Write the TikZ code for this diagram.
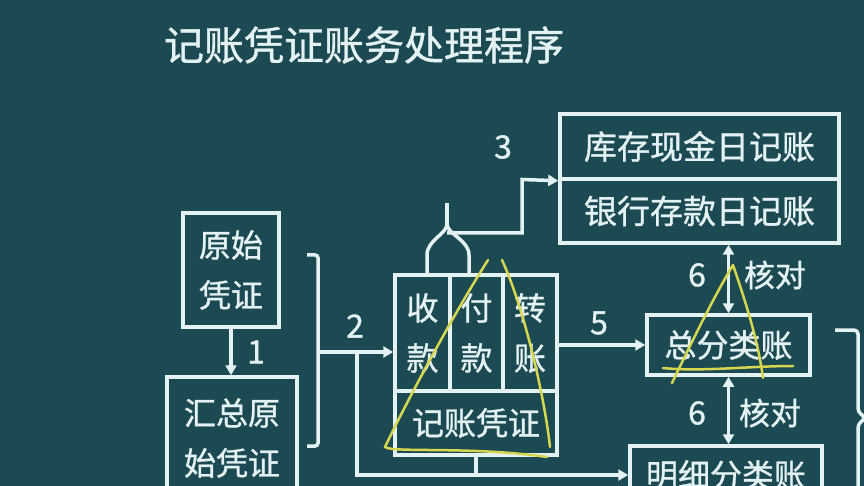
\documentclass[tikz,border=0pt]{standalone}
\usepackage{fontspec}
\setmainfont{Noto Sans CJK SC}[FakeBold=1]
\usetikzlibrary{arrows.meta}
\definecolor{bg}{HTML}{1C4A52}
\definecolor{ln}{HTML}{E4F2F4}
\definecolor{hl}{HTML}{D6D650}
\begin{document}
\begin{tikzpicture}[x=1pt,y=-1pt,
  box/.style={draw=ln, line width=3.5pt, inner sep=0pt, text=ln, align=center, font=\fontsize{32}{50}\selectfont},
  lbl/.style={text=ln, inner sep=0pt, align=center, font=\fontsize{32}{50}\selectfont},
  wire/.style={draw=ln, line width=3.5pt},
  arr/.style={wire, -{Triangle[length=10pt,width=11pt]}},
  darr/.style={wire, {Triangle[length=10pt,width=11pt]}-{Triangle[length=10pt,width=11pt]}},
  hand/.style={draw=hl, line width=2.5pt, line cap=round, line join=round}]
\clip (0,0) rectangle (864,486);
\fill[bg] (0,0) rectangle (864,486);

% title
\node[lbl, font=\fontsize{40}{44}\selectfont] (title) at (364,45) {记账凭证账务处理程序};

% left boxes
\node[box, minimum width=96pt, minimum height=114pt] (orig) at (231,270) {原始\\凭证};
\node[box, minimum width=130pt, minimum height=163pt] (summ) at (232,458.5) {};
\node[lbl] (summtxt) at (232,438) {汇总原\\始凭证};

% voucher block
\node[box, minimum width=55pt, minimum height=116pt] (sk) at (422.5,333) {收\\款};
\node[box, minimum width=53pt, minimum height=116pt] (fk) at (476.5,333) {付\\款};
\node[box, minimum width=54pt, minimum height=116pt] (zz) at (530,333) {转\\账};
\node[box, minimum width=162pt, minimum height=64pt] (pz) at (476,423) {记账凭证};

% journals
\node[box, minimum width=279pt, minimum height=65pt, font=\fontsize{33}{40}\selectfont] (cash) at (699.5,146.5) {库存现金日记账};
\node[box, minimum width=279pt, minimum height=64pt, font=\fontsize{33}{40}\selectfont] (bank) at (699.5,211) {银行存款日记账};

% ledgers
\node[box, minimum width=163pt, minimum height=60pt] (zf) at (728.5,345) {总分类账};
\node[box, minimum width=192pt, minimum height=58pt] (mx) at (726,475) {明细分类账};

% labels
\node[lbl] (n1) at (256,352) {1};
\node[lbl] (n2) at (355,326) {2};
\node[lbl] (n3) at (503,147) {3};
\node[lbl] (n5) at (599,323) {5};
\node[lbl] (n6a) at (697,275) {6};
\node[lbl, font=\fontsize{31}{36}\selectfont] (hd1) at (775,275) {核对};
\node[lbl] (n6b) at (697,413) {6};
\node[lbl, font=\fontsize{31}{36}\selectfont] (hd2) at (770,413) {核对};

% connector 1
\draw[arr] (orig.south) -- (orig.south |- summ.north);

% bracket and connector 2
\coordinate (bt) at (307,255);
\coordinate (btr) at (318,255);
\coordinate (bbr) at (318,446);
\coordinate (bb) at (307,446);
\coordinate (bm) at (318,352);
\coordinate (br) at (357,352);
\draw[wire, rounded corners=3pt] (bt) -- (btr) -- (bbr) -- (bb);
\draw[arr] (bm) -- (bm -| sk.west);
\draw[arr] (br) |- (mx.west);
\draw[wire] (pz.south) -- (pz.south |- mx.west);

% fork and connector 3
\coordinate (cusp) at (447,224);
\coordinate (fl) at (427,275);
\coordinate (fr) at (469,275);
\coordinate (tj) at (447,233);
\coordinate (k3) at (522,179.5);
\draw[wire] (fl) -- ++(0,-20) .. controls +(0,-15) and +(0,10) .. (cusp);
\draw[wire] (fr) -- ++(0,-20) .. controls +(0,-15) and +(0,10) .. (cusp);
\draw[wire] (cusp) -- ++(0,-21);
\draw[arr] (tj) -| (k3) -- (cash.south west);

% connector 5
\draw[arr] (zf.west -| zz.east) -- (zf.west);

% connectors 6
\draw[darr] (bank.south -| zf.north) -- (zf.north);
\draw[darr] (zf.south) -- (zf.south |- mx.north);

% right bracket
\coordinate (rb1) at (835,330);
\coordinate (rb2) at (858,330);
\coordinate (rb3) at (858,412);
\coordinate (rbm) at (866,418);
\coordinate (rb4) at (858,424);
\coordinate (rb5) at (858,500);
\draw[wire, rounded corners=4pt] (rb1) -- (rb2) -- (rb3) -- (rbm) -- (rb4) -- (rb5);

% handwritten highlights
\draw[hand] (488,260) .. controls (450,320) and (405,405) .. (385,447)
            .. controls (392,453) and (470,446) .. (547,457);
\draw[hand] (502,260) .. controls (525,310) and (545,400) .. (550,447);
\draw[hand] (672,383) .. controls (695,335) and (715,295) .. (733,265)
            .. controls (745,300) and (758,340) .. (763,378);
\draw[hand] (663,368) .. controls (700,372) and (750,366) .. (793,366);
\end{tikzpicture}
\end{document}
